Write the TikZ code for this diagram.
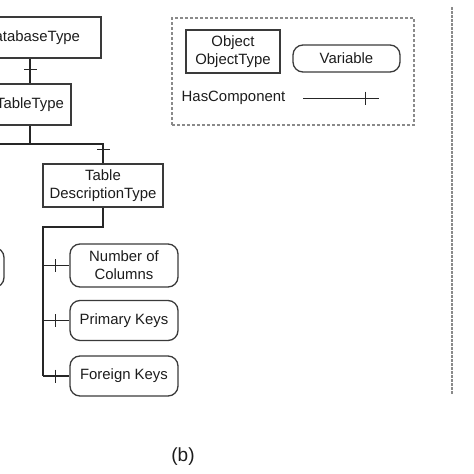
\documentclass[tikz,border=0pt]{standalone}
\usepackage{fontspec}
\setmainfont{Liberation Sans}
\usepackage{xcolor}
\usepackage{tikz}
\usetikzlibrary{
  arrows.meta,
  positioning,
  calc,
  decorations.markings
}
\definecolor{dgline}{HTML}{3A3A3A}
\definecolor{dgtext}{HTML}{1C1C1C}
\definecolor{dggray}{HTML}{8A8A8A}

\begin{document}
\begin{tikzpicture}[
  x=1pt, y=-1pt,
  every node/.style={font=\fontsize{14.9}{18}\selectfont, text=dgtext, align=center},
  obj/.style={rectangle, draw=dgline, line width=1.3pt, inner sep=2pt},
  var/.style={rectangle, rounded corners=10pt, draw=dgline, line width=1.3pt,
              minimum width=108pt, minimum height=40pt},
  conn/.style={draw=black!85, line width=1.4pt},
  hascomp/.style={conn, postaction={decorate}, decoration={markings,
      mark=at position -13.5pt with {\draw[black!85, line width=1.2pt] (0,-6.5) -- (0,6.5);}}},
  frame/.style={draw=dggray, dashed, dash pattern=on 3pt off 2pt, line width=1.2pt},
]
\useasboundingbox (0,0) rectangle (474,474);
\clip (0,0) rectangle (474,474);

% -- Object tree ---------------------------------
\node[obj, minimum width=138pt, minimum height=41pt] (db)  at (32,37.5)  {DatabaseType};
\node[obj, minimum width=82pt,  minimum height=41pt] (tt)  at (30,104.5) {TableType};
\node[obj, minimum width=120pt, minimum height=43pt] (tdt) at (103,185.5) {Table\\DescriptionType};

% -- Variables -----------------------------------
\node[var] (sib) at (-50,267.5) {};
\node[var, minimum height=43pt] (noc) at (124,265.5) {Number of\\Columns};
\node[var] (pk)  at (124,320.5) {Primary Keys};
\node[var] (fk)  at (124,376)   {Foreign Keys};

% -- Connectors ----------------------------------
\draw[hascomp] (db.south -| tt.north) -- (tt.north);

\coordinate (bus)  at (30,144);
\coordinate (busl) at (-30,144);
\draw[conn] (tt.south) -- (bus);
\draw[conn] (busl) -- (bus);
\draw[hascomp] (bus) -| (tdt.north);

\coordinate (trunk) at (43,227);
\draw[conn] (tdt.south) |- (trunk) -- (trunk |- fk.west);
\foreach \v in {noc, pk, fk}
  \draw[hascomp] (trunk |- \v.west) -- (\v.west);

% -- Legend --------------------------------------
\node[frame, minimum width=242pt, minimum height=107pt] (legend) at (293,71.5) {};
\node[obj, minimum width=94pt, minimum height=43pt] (lobj) at (233,51.5) {Object\\ObjectType};
\node[var, minimum width=107pt, minimum height=27pt] (lvar) at (346.5,58.5) {Variable};
\node (lhc) at (233.5,98) {HasComponent};
\coordinate (lhs) at (303,98);
\coordinate (lhe) at (379,98);
\draw[hascomp, line width=1pt] (lhs) -- (lhe);

% -- Divider and caption -------------------------
\coordinate (divt) at (452,7);
\coordinate (divb) at (452,395);
\draw[frame, dash pattern=on 2.5pt off 1.5pt] (divt) -- (divb);
\node[font=\fontsize{19}{22}\selectfont] (cap) at (183,457) {(b)};

\end{tikzpicture}
\end{document}
